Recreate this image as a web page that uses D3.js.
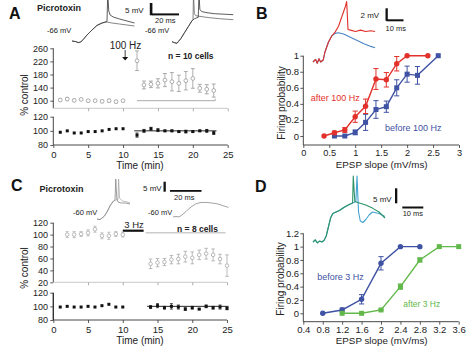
<!DOCTYPE html>
<html><head><meta charset="utf-8">
<script src="https://cdn.jsdelivr.net/npm/d3@7"></script>
<style>
body{margin:0;background:#fff;}
svg text{font-family:"Liberation Sans",Arial,Helvetica,sans-serif;}
</style></head><body>
<svg id="c" width="474" height="363"></svg>
<script>
// ---------------- DATA ----------------
// Panel A (100 Hz, picrotoxin), % control vs time (min)
const aPreT = [1,2,3,4,5,6,7,8,9,10];
const aPostT = [12,13,14,15,16,17,18,19,20,21,22,23];
const aUpperPre = [102,105,101,104,100,100,98,100,97,100];
const aUpperPreErr = [4,5,4,3,3,3,4,5,4,3];
const aUpperPost = [222,148,150,153,163,158,153,161,168,138,135,131];
const aUpperPostErr = [30,12,10,14,20,28,25,28,30,12,14,20];
const aLowerPre = [98,100,97,97,99,99,100,102,103,103];
const aLowerPost = [94,100,103,101,100,100,99,99,99,100,100,97];
const aLowerPostErr = [3,2,2,2,1,1,1,2,1,1,2,2];
const aUpperTicks = [100,140,180,220,260];
const lowerTicks = [80,100,120];
const timeTicks = [0,5,10,15,20,25];

// Panel C (3 Hz)
const cUpperPreT = [2,3,4,5,6,7,8,9,10];
const cUpperPre = [100,100,101,103,109,98,98,101,100];
const cUpperPreErr = [5,5,4,5,5,5,6,4,4];
const cLowerPreT = [1,2,3,4,5,6,7,8,9,10];
const cPostT = [14,15,16,17,18,19,20,21,22,23,24,25];
const cUpperPost = [51,53,54,58,59,63,61,66,68,66,59,48];
const cUpperPostErr = [8,7,6,7,8,9,10,8,9,10,8,18];
const cLowerPre = [99,100,99,99,100,99,101,103,99,99];
const cLowerPost = [99,101,98,100,99,96,98,96,100,98,99,97];
const cLowerPostErr = [2,3,2,4,3,2,2,1,2,2,3,2];
const cUpperTicks = [20,40,60,80,100,120];

// Panel B: firing probability vs EPSP slope
const bAfterX = [0.4,0.6,0.8,1.0,1.2,1.4,1.6,1.8,2.0,2.4];
const bAfterY = [0,0.04,0.075,0.24,0.37,0.71,0.70,0.90,1,1];
const bAfterErr = [0,0.02,0.03,0.07,0.09,0.13,0.09,0.09,0,0];
const bBeforeX = [0.6,0.8,1.0,1.2,1.4,1.6,1.8,2.0,2.2,2.6];
const bBeforeY = [0,0,0.045,0.17,0.33,0.365,0.60,0.77,0.755,1];
const bBeforeErr = [0,0,0.03,0.10,0.11,0.07,0.10,0.10,0.11,0];
const bXTicks = [0,0.5,1,1.5,2,2.5,3];
const probTicksB = [0,0.2,0.4,0.6,0.8,1];

// Panel D
const dBeforeX = [0.8,1.2,1.6,2.0,2.4,2.8];
const dBeforeY = [0,0.05,0.21,0.75,1,1];
const dBeforeErr = [0,0.03,0.07,0.10,0,0];
const dAfterX = [1.2,1.6,2.0,2.4,2.8,3.2,3.6];
const dAfterY = [0,0,0.05,0.40,0.80,1,1];
const dAfterErr = [0,0,0.01,0.04,0.03,0,0];
const dXTicks = [0.4,0.8,1.2,1.6,2,2.4,2.8,3.2,3.6];
const probTicksD = [0,0.2,0.4,0.6,0.8,1,1.2];

// Inset voltage traces: [ms, mV relative to rest]
const trA1a = [[0,0],[3,-0.3],[5,-0.8],[7,-0.5],[9,0.8],[12,3],[16,5.5],[20,7.8],[24,9],[28,9.5],[32,9],[38,8.5],[44,8],[50,7.5]];
const trA1b = [[0,0],[3,-0.3],[5,-0.8],[7,-0.5],[9,0.8],[12,3],[16,5.5],[20,7.8],[24,9],[28,9.8],[28.6,24],[29.4,15],[30.5,13],[33,12],[38,11],[44,10],[50,9]];
const trA2a = [[0,0],[2,-0.5],[4,-0.8],[5,0],[7,1.5],[10,4.5],[13,7.5],[16,10.5],[16.8,11],[17.2,24],[17.9,14],[19,13],[24,12.5],[30,12],[38,11.5],[49,11]];
const trA2b = [[0,0],[2,-0.5],[4,-0.8],[5,0],[7,1.5],[10,4.5],[13,7.5],[16,10.5],[18,11.5],[21,12.2],[21.6,24],[22.3,16],[24,15],[28,14.5],[34,14],[40,13.8],[49,13.5]];
const trBBlue = [[0,0],[1.5,0.4],[2.5,-0.2],[3.5,0.5],[4.5,0],[6,0.3],[7,1.5],[9,3],[11,4],[13,4.4],[15,4.5],[18,4.3],[22,3.8],[26,3.3],[30,2.8],[34,2.4],[36.5,2.2]];
const trBRed = [[0,0],[1.5,0.4],[2.5,-0.2],[3.5,0.5],[4.5,0],[6,0.3],[7,1.5],[9,3],[11,4],[13,4.6],[15,5.5],[17,7],[19,8.5],[19.8,9.3],[20.6,5],[22,4.9],[25,4.7],[28,4.9],[31,4.7],[34,4.8],[36.5,4.7]];
const trC1a = [[0,0],[2,-0.3],[3,0.3],[5,1.5],[7,4],[9,7],[11,9],[12,9.5],[12.5,20],[13.2,10],[14,8.5],[16,8],[19,8],[22,7.5]];
const trC1b = [[0,0],[2,-0.3],[3,0.3],[5,1.5],[7,4],[9,7],[11,9],[13,9.6],[14,9.8],[14.4,20],[15,10.5],[17,9],[20,8.5],[22,8]];
const trC2 = [[0,0],[2,0.3],[4,0],[6,1],[9,3],[12,5],[15,6.5],[18,7.2],[22,7.3],[26,7],[30,6.5],[34,5.5],[37,4.8]];
const trDGreen = [[0,0],[1,0.7],[2,-0.3],[3,0.3],[4,0],[5,0.5],[6,2],[7,5],[8,8],[9,9.5],[10,9.8],[12,10.5],[14,11.5],[16,12.3],[18,13],[18.3,22],[19,13.5],[21,13],[24,12.3],[27,11.3],[30,10],[32.7,8]];
const trDBlue = [[0,0],[1,0.7],[2,-0.3],[3,0.3],[4,0],[5,0.5],[6,2],[7,5],[8,8],[9,9.5],[10,9.8],[12,10.5],[14,11.5],[16,12.3],[18,13],[19.5,13.5],[20,22],[20.7,10],[21.5,7],[22.7,6.5],[24,7.5],[25.5,9],[27,10],[30,9.5],[32.7,8.5]];

// ---------------- DRAWING ----------------
const svg = d3.select("#c");
const INK = "#222";

function txt(x, y, s, o = {}) {
  const t = svg.append("text").attr("x", x).attr("y", y).text(s)
    .attr("font-size", o.size || 9.5).attr("fill", o.fill || INK)
    .attr("font-weight", o.weight || "normal").attr("text-anchor", o.anchor || "start");
  if (o.rotate) t.attr("transform", `rotate(-90,${x},${y})`);
  return t;
}
function line(x1, y1, x2, y2, c = "#333", w = 0.9) {
  svg.append("line").attr("x1", x1).attr("y1", y1).attr("x2", x2).attr("y2", y2)
    .attr("stroke", c).attr("stroke-width", w);
}
const fmt = d => String(+(+d).toFixed(1));
function styleAxis(g, fs) {
  g.select(".domain").remove();
  g.selectAll(".tick line").attr("stroke", "#333").attr("stroke-width", 0.8);
  g.selectAll(".tick text").attr("font-size", fs).attr("fill", INK)
    .attr("font-family", '"Liberation Sans", Arial, sans-serif');
}
function yAxis(scale, ticks, x, pad, fs = 9.5) {
  const g = svg.append("g").attr("transform", `translate(${x},0)`)
    .call(d3.axisLeft(scale).tickValues(ticks).tickSize(3).tickPadding(pad).tickSizeOuter(0).tickFormat(fmt));
  styleAxis(g, fs);
}
function xAxis(scale, ticks, y, pad, fs = 9.5, labels = true) {
  const ax = d3.axisBottom(scale).tickValues(ticks).tickSize(3).tickPadding(pad).tickSizeOuter(0).tickFormat(labels ? fmt : () => "");
  const g = svg.append("g").attr("transform", `translate(0,${y})`).call(ax);
  styleAxis(g, fs);
  return g;
}
function errBars(x, y, xs, vs, es, color, cap = 2.2, w = 0.9) {
  xs.forEach((t, i) => {
    if (!es || !es[i]) return;
    const cx = x(t), y0 = y(vs[i] - es[i]), y1 = y(vs[i] + es[i]);
    line(cx, y0, cx, y1, color, w);
    line(cx - cap, y0, cx + cap, y0, color, w);
    line(cx - cap, y1, cx + cap, y1, color, w);
  });
}
function circles(x, y, xs, vs, r, stroke, fill, w = 0.8) {
  xs.forEach((t, i) => svg.append("circle").attr("cx", x(t)).attr("cy", y(vs[i])).attr("r", r)
    .attr("fill", fill).attr("stroke", stroke).attr("stroke-width", w));
}
function squares(x, y, xs, vs, s, fill) {
  xs.forEach((t, i) => svg.append("rect").attr("x", x(t) - s / 2).attr("y", y(vs[i]) - s / 2)
    .attr("width", s).attr("height", s).attr("fill", fill));
}
function polyline(x, y, xs, vs, color, w = 1.4) {
  svg.append("path").attr("d", d3.line().x((d, i) => x(xs[i])).y((d, i) => y(vs[i]))(xs))
    .attr("fill", "none").attr("stroke", color).attr("stroke-width", w);
}
function trace(pts, x0, y0, msPx, mvPx, color, w = 0.9) {
  const sx = d3.scaleLinear().domain([0, 1]).range([x0, x0 + msPx]);
  const sy = d3.scaleLinear().domain([0, 1]).range([y0, y0 - mvPx]);
  svg.append("path").attr("d", d3.line().x(d => sx(d[0])).y(d => sy(d[1]))(pts))
    .attr("fill", "none").attr("stroke", color).attr("stroke-width", w).attr("stroke-linejoin", "round");
}

// ===== Panel A =====
txt(9, 18.5, "A", { size: 16, weight: "bold", fill: "#111" });
txt(37, 11, "Picrotoxin", { size: 9, weight: "bold" });
trace(trA1a, 72, 41, 1.25, 2.0, "#666", 0.8);
trace(trA1b, 72, 41, 1.25, 2.0, "#333", 0.8);
trace(trA2a, 172, 41.7, 1.25, 2.0, "#666", 0.8);
trace(trA2b, 172, 41.7, 1.25, 2.0, "#333", 0.8);
txt(47, 33, "-66 mV", { size: 7.5 });
txt(145, 33, "-66 mV", { size: 7.5 });
txt(125, 12.5, "5 mV", { size: 8 });
svg.append("rect").attr("x", 149.8).attr("y", 3).attr("width", 2.6).attr("height", 12.3).attr("fill", "#111");
svg.append("rect").attr("x", 152).attr("y", 13.4).attr("width", 27).attr("height", 2).attr("fill", "#111");
txt(155, 23, "20 ms", { size: 7.5 });

const xT = d3.scaleLinear().domain([0, 25]).range([53.3, 227.7]);
const yAU = d3.scaleLinear().domain([100, 260]).range([100.7, 48.3]);
const yAL = d3.scaleLinear().domain([80, 120]).range([145, 116.7]);

// upper axis
yAxis(yAU, aUpperTicks, 53.3, 2.3, 9);
line(53.3, 48.3, 53.3, 108.3, "#333", 0.9);
line(53.3, 108.3, 227.7, 108.3, "#bbb", 0.8);
xAxis(xT, timeTicks.slice(1), 108.3, 2, 9, false).selectAll(".tick line").attr("stroke", "#999");
// lower axis
yAxis(yAL, lowerTicks, 53.3, 2.3, 9);
line(53.3, 116.7, 53.3, 145, "#333", 0.9);
line(53.3, 145, 227.7, 145, "#333", 0.9);
xAxis(xT, timeTicks, 145, 3.3, 9.5);

txt(28, 95, "% control", { size: 10, anchor: "middle", rotate: true });
txt(140, 169, "Time (min)", { size: 10, anchor: "middle" });

// 100 Hz label + arrow
txt(125.5, 48.5, "100 Hz", { size: 10, anchor: "middle" });
line(xT(10.3), 50, xT(10.3), 57, "#111", 0.8);
svg.append("path").attr("d", `M${xT(10.3) - 3},57 L${xT(10.3) + 3},57 L${xT(10.3)},60.5 Z`).attr("fill", "#111");
txt(168, 58.5, "n = 10 cells", { size: 8.5, weight: "bold" });

// reference lines
line(xT(12), yAU(100), xT(23.2), yAU(100), "#aaa", 1);
line(xT(23.2), yAU(100), xT(23.2), yAU(100) - 2, "#aaa", 1);
line(xT(11.6), yAL(100), xT(23.4), yAL(100), "#111", 0.9);

// data upper
errBars(xT, yAU, aPreT, aUpperPre, aUpperPreErr, "#aaa", 1.6, 0.7);
errBars(xT, yAU, aPostT, aUpperPost, aUpperPostErr, "#999", 2.0, 0.8);
circles(xT, yAU, aPreT, aUpperPre, 1.9, "#999", "#fff");
circles(xT, yAU, aPostT, aUpperPost, 1.9, "#999", "#fff");
// data lower
errBars(xT, yAL, aPostT, aLowerPost, aLowerPostErr, "#111", 1.5, 0.7);
squares(xT, yAL, aPreT, aLowerPre, 3, "#111");
squares(xT, yAL, aPostT, aLowerPost, 3, "#111");

// ===== Panel B =====
txt(256, 18.5, "B", { size: 16, weight: "bold", fill: "#111" });
trace(trBBlue, 313, 62, 1.7, 6.5, "#4a86c5", 1.1);
trace(trBRed, 313, 62, 1.7, 6.5, "#e0302a", 1.1);
txt(360.5, 18, "2 mV", { size: 8 });
svg.append("rect").attr("x", 385.5).attr("y", 8.3).attr("width", 2.3).attr("height", 12.5).attr("fill", "#111");
svg.append("rect").attr("x", 386.5).attr("y", 19.3).attr("width", 17).attr("height", 2).attr("fill", "#111");
txt(385.5, 30.5, "10 ms", { size: 7.5 });

const xB = d3.scaleLinear().domain([0, 3]).range([303.3, 459]);
const yB = d3.scaleLinear().domain([0, 1]).range([136, 55.7]);
yAxis(yB, probTicksB, 303.3, 1.2, 9.5);
line(303.3, 55.7, 303.3, 145, "#333", 0.9);
line(303.3, 145, 459, 145, "#333", 0.9);
xAxis(xB, bXTicks, 145, 1.6, 9.2);
txt(284.5, 103, "Firing probability", { size: 10, anchor: "middle", rotate: true });
txt(381.7, 168, "EPSP slope (mV/ms)", { size: 9.8, anchor: "middle" });

const RED = "#e2312b", BLUE = "#3f52a3", GREEN = "#62b84a";
polyline(xB, yB, bBeforeX, bBeforeY, BLUE, 1.4);
errBars(xB, yB, bBeforeX, bBeforeY, bBeforeErr, BLUE, 2.6, 1);
squares(xB, yB, bBeforeX, bBeforeY, 5, BLUE);
polyline(xB, yB, bAfterX, bAfterY, RED, 1.4);
errBars(xB, yB, bAfterX, bAfterY, bAfterErr, RED, 2.6, 1);
circles(xB, yB, bAfterX, bAfterY, 2.7, RED, RED, 0);
txt(310.7, 100.5, "after 100 Hz", { size: 9, fill: RED });
txt(385, 130.5, "before 100 Hz", { size: 9, fill: BLUE });

// ===== Panel C =====
txt(11, 191, "C", { size: 16, weight: "bold", fill: "#111" });
txt(39.5, 192, "Picrotoxin", { size: 9, weight: "bold" });
trace(trC1b, 97, 219, 1.5, 2.0, "#aaa", 0.8);
trace(trC1a, 97, 219, 1.5, 2.0, "#888", 0.8);
trace(trC2, 173, 217, 1.5, 2.0, "#999", 0.9);
txt(73, 215, "-60 mV", { size: 7.5 });
txt(148, 215, "-60 mV", { size: 7.5 });
txt(143, 191, "5 mV", { size: 8 });
svg.append("rect").attr("x", 163.5).attr("y", 181.7).attr("width", 2.3).attr("height", 10).attr("fill", "#111");
svg.append("rect").attr("x", 170).attr("y", 190).attr("width", 31.5).attr("height", 1.8).attr("fill", "#111");
txt(174, 200, "20 ms", { size: 7.5 });

const xT2 = d3.scaleLinear().domain([0, 25]).range([53.3, 227]);
const yCU = d3.scaleLinear().domain([20, 120]).range([282.3, 222.7]);
const yCL = d3.scaleLinear().domain([80, 120]).range([320, 292.7]);
yAxis(yCU, cUpperTicks, 53.3, 2.3, 9);
line(53.3, 222.7, 53.3, 282.3, "#333", 0.9);
line(53.3, 282.3, 227, 282.3, "#bbb", 0.8);
xAxis(xT2, timeTicks.slice(1), 282.3, 2, 9, false).selectAll(".tick line").attr("stroke", "#999");
yAxis(yCL, lowerTicks, 53.3, 2.3, 9);
line(53.3, 292.7, 53.3, 320, "#333", 1.4);
line(53.3, 320, 227, 320, "#333", 0.9);
xAxis(xT2, timeTicks, 320, 3.3, 9.5);
txt(28, 268, "% control", { size: 10, anchor: "middle", rotate: true });
txt(140, 344, "Time (min)", { size: 10, anchor: "middle" });

txt(134, 228.3, "3 Hz", { size: 9.5, anchor: "middle" });
svg.append("rect").attr("x", xT2(10)).attr("y", 229.6).attr("width", xT2(13) - xT2(10)).attr("height", 2.2).attr("fill", "#111");
txt(177, 231.5, "n = 8 cells", { size: 8.5, weight: "bold" });
line(xT2(13.3), yCU(103), xT2(24.8), yCU(103), "#aaa", 0.9);
line(xT2(13.5), yCL(100), xT2(25.2), yCL(100), "#111", 0.9);

errBars(xT2, yCU, cUpperPreT, cUpperPre, cUpperPreErr, "#aaa", 1.6, 0.7);
errBars(xT2, yCU, cPostT, cUpperPost, cUpperPostErr, "#aaa", 1.8, 0.8);
circles(xT2, yCU, cUpperPreT, cUpperPre, 1.8, "#aaa", "#fff");
circles(xT2, yCU, cPostT, cUpperPost, 1.8, "#aaa", "#fff");
errBars(xT2, yCL, cPostT, cLowerPost, cLowerPostErr, "#111", 1.5, 0.7);
squares(xT2, yCL, cLowerPreT, cLowerPre, 3, "#111");
squares(xT2, yCL, cPostT, cLowerPost, 3, "#111");

// ===== Panel D =====
txt(255, 192, "D", { size: 16, weight: "bold", fill: "#111" });
trace(trDBlue, 313, 242, 2.2, 3.0, "#45a3d2", 1.1);
trace(trDGreen, 313, 242, 2.2, 3.0, "#2e9468", 1.1);
txt(373, 201.5, "5 mV", { size: 8 });
svg.append("rect").attr("x", 395).attr("y", 188.3).attr("width", 2.3).attr("height", 15).attr("fill", "#111");
svg.append("rect").attr("x", 402.3).attr("y", 206.5).attr("width", 21).attr("height", 2).attr("fill", "#111");
txt(402.7, 216, "10 ms", { size: 7.5 });

const xD = d3.scaleLinear().domain([0.4, 3.6]).range([303.3, 458.7]);
const yD = d3.scaleLinear().domain([0, 1.2]).range([313.3, 233.3]);
yAxis(yD, probTicksD, 303.3, 1.2, 9.5);
line(303.3, 233.3, 303.3, 321.7, "#333", 0.9);
line(303.3, 321.7, 458.7, 321.7, "#333", 0.9);
xAxis(xD, dXTicks, 321.7, 1.2, 9.5);
txt(284, 279, "Firing probability", { size: 10, anchor: "middle", rotate: true });
txt(381.7, 343.5, "EPSP slope (mV/ms)", { size: 9.8, anchor: "middle" });

polyline(xD, yD, dBeforeX, dBeforeY, BLUE, 1.4);
errBars(xD, yD, dBeforeX, dBeforeY, dBeforeErr, BLUE, 2.6, 1);
circles(xD, yD, dBeforeX, dBeforeY, 2.7, BLUE, BLUE, 0);
polyline(xD, yD, dAfterX, dAfterY, GREEN, 1.4);
errBars(xD, yD, dAfterX, dAfterY, dAfterErr, GREEN, 2.6, 1);
squares(xD, yD, dAfterX, dAfterY, 5, GREEN);
txt(317.3, 280, "before 3 Hz", { size: 9, fill: BLUE });
txt(403.3, 306.5, "after 3 Hz", { size: 8.5, fill: GREEN });
</script>
</body></html>
